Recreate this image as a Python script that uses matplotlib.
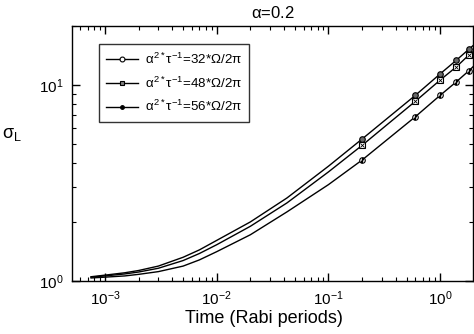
import matplotlib
matplotlib.use('Agg')
import matplotlib.pyplot as plt
import matplotlib as mpl
from matplotlib.lines import Line2D

mpl.rcParams['font.family'] = ['Liberation Sans', 'DejaVu Sans']
mpl.rcParams['mathtext.fontset'] = 'custom'
mpl.rcParams['mathtext.rm'] = 'Liberation Sans'
mpl.rcParams['mathtext.it'] = 'Liberation Sans'
mpl.rcParams['mathtext.bf'] = 'Liberation Sans:bold'

# time in Rabi periods
t = [7.5e-4, 1e-3, 1.5e-3, 2e-3, 3e-3, 5e-3, 7e-3, 1e-2, 2e-2, 4.25e-2, 0.1,
     0.2, 0.6, 1.0, 1.4, 1.8, 1.97]

# sigma_L for the three decay rates
sig_32 = [1.035, 1.045, 1.06, 1.08, 1.115, 1.19, 1.28, 1.41, 1.72, 2.25, 3.1,
          4.14, 6.89, 8.86, 10.4, 11.8, 12.4]
sig_48 = [1.045, 1.06, 1.085, 1.11, 1.16, 1.27, 1.38, 1.53, 1.9, 2.5, 3.6,
          4.92, 8.26, 10.6, 12.4, 14.2, 14.8]
sig_56 = [1.05, 1.07, 1.10, 1.13, 1.19, 1.32, 1.44, 1.61, 2.0, 2.65, 3.85,
          5.3, 8.86, 11.4, 13.4, 15.2, 15.9]

# indices of the points that get a symbol
mark_idx = [11, 12, 13, 14, 15]

labels = [r'$\alpha^{2*}\tau^{-1}$=32*$\Omega$/2$\pi$',
          r'$\alpha^{2*}\tau^{-1}$=48*$\Omega$/2$\pi$',
          r'$\alpha^{2*}\tau^{-1}$=56*$\Omega$/2$\pi$']

fig = plt.figure(figsize=(4.74, 3.34), dpi=100)
ax = fig.add_axes([0.152, 0.159, 0.846, 0.763])

ax.plot(t, sig_32, color='black', lw=1.0, marker='o', ms=4,
        mfc='white', mec='black', mew=0.8, markevery=mark_idx)
ax.plot(t, sig_32, ls='none', marker='$/$', ms=3, color='black',
        markevery=mark_idx)
ax.plot(t, sig_48, color='black', lw=1.0, marker='s', ms=4,
        mfc='white', mec='black', mew=0.8, markevery=mark_idx)
ax.plot(t, sig_48, ls='none', marker='x', ms=3, mew=0.6, color='black',
        markevery=mark_idx)
ax.plot(t, sig_56, color='black', lw=1.0, marker='o', ms=4,
        mfc='dimgray', mec='black', mew=0.8, markevery=mark_idx)

ax.set_xscale('log')
ax.set_yscale('log')
ax.set_xlim(5.07e-4, 1.97)
ax.set_ylim(1, 20)

ax.tick_params(which='both', direction='in', top=True, right=True,
               labelsize=11, pad=6)
ax.tick_params(which='major', length=6, width=1)
ax.tick_params(which='minor', length=3, width=0.8)
for s in ax.spines.values():
    s.set_linewidth(1.0)

ax.set_xlabel('Time (Rabi periods)', fontsize=13)
ax.xaxis.set_label_coords(0.478, -0.115)
ax.set_ylabel(r'$\sigma_L$', fontsize=13, rotation=0)
ax.yaxis.set_label_coords(-0.15, 0.54)
ax.set_title(r'$\alpha$=0.2', fontsize=12, pad=6)

handles = [Line2D([], [], color='black', lw=1.0, marker='o', ms=3.5,
                  mfc='white', mec='black', mew=0.8),
           Line2D([], [], color='black', lw=1.0, marker='s', ms=3.5,
                  mfc='gray', mec='black', mew=0.8),
           Line2D([], [], color='black', lw=1.0, marker='o', ms=2.5,
                  mfc='black', mec='black')]
leg = ax.legend(handles, labels, loc='upper left',
                bbox_to_anchor=(0.067, 0.929), fontsize=9.6,
                frameon=True, fancybox=False, edgecolor='black',
                handlelength=2.4, handletextpad=0.5, borderpad=0.55,
                labelspacing=0.65, borderaxespad=0)
leg.get_frame().set_linewidth(1.0)

fig.savefig('out.png', dpi=100)
